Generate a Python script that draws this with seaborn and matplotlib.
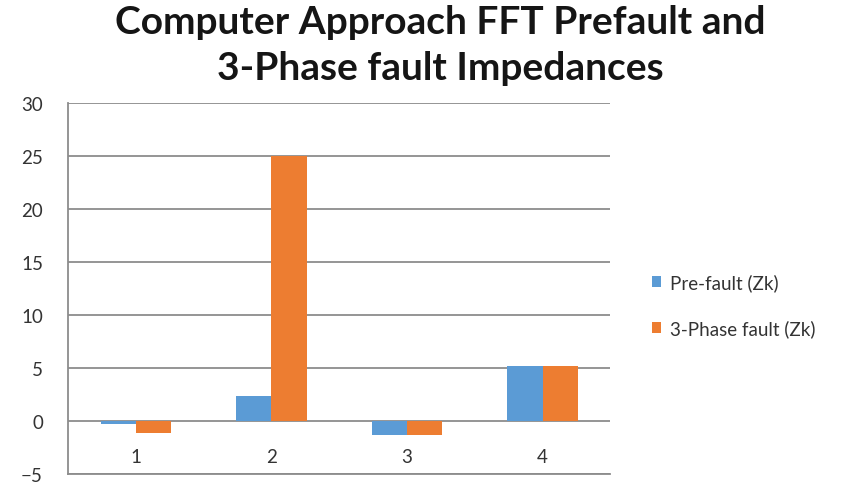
import pandas as pd
import matplotlib
matplotlib.use("Agg")
import matplotlib.pyplot as plt
import seaborn as sns

# -----------------------------
# Data
# -----------------------------
cases = ["1", "2", "3", "4"]
prefault = [-0.3, 2.4, -1.3, 5.2]
three_phase = [-1.1, 25.0, -1.3, 5.2]
series_names = ["Pre-fault (Zk)", "3-Phase fault (Zk)"]
colors = ["#5B9BD5", "#ED7D31"]

df = pd.DataFrame({
    "case": cases * 2,
    "value": prefault + three_phase,
    "series": [series_names[0]] * 4 + [series_names[1]] * 4,
})

sns.set_style("white")
plt.rcParams["font.family"] = ["Lato", "DejaVu Sans"]

fig = plt.figure(figsize=(8.5, 4.85), dpi=100)
ax = fig.add_axes([0.08, 0.02, 0.638, 0.766])

sns.barplot(data=df, x="case", y="value", hue="series", palette=colors,
            width=0.52, saturation=1, linewidth=0, ax=ax, zorder=3)

ax.set_ylim(-5, 30)
ax.set_yticks(range(-5, 31, 5))
ax.yaxis.grid(True, color="#8c8c8c", linewidth=1.3, zorder=0)
ax.set_xlim(-0.5, 3.5)
ax.set_xlabel("")
ax.set_ylabel("")

for side in ["top", "right"]:
    ax.spines[side].set_visible(False)
ax.spines["left"].set_color("#8c8c8c")
ax.spines["bottom"].set_color("#8c8c8c")
ax.spines["left"].set_linewidth(1.3)
ax.spines["bottom"].set_linewidth(1.3)

ax.tick_params(axis="y", length=0, pad=18, labelsize=13.5, labelcolor="#333333")
ax.tick_params(axis="x", length=0, pad=-19, labelsize=13.5, labelcolor="#333333")

ax.legend(loc="center left", bbox_to_anchor=(1.045, 0.455), frameon=False,
          fontsize=13.5, handlelength=0.5, handleheight=0.5,
          labelspacing=1.5, handletextpad=0.5, labelcolor="#333333")

fig.suptitle("Computer Approach FFT Prefault and\n3-Phase fault Impedances",
             x=0.518, y=0.99, fontsize=28, fontweight="bold",
             color="#151515", linespacing=1.4)

fig.savefig("out.png", dpi=100)
